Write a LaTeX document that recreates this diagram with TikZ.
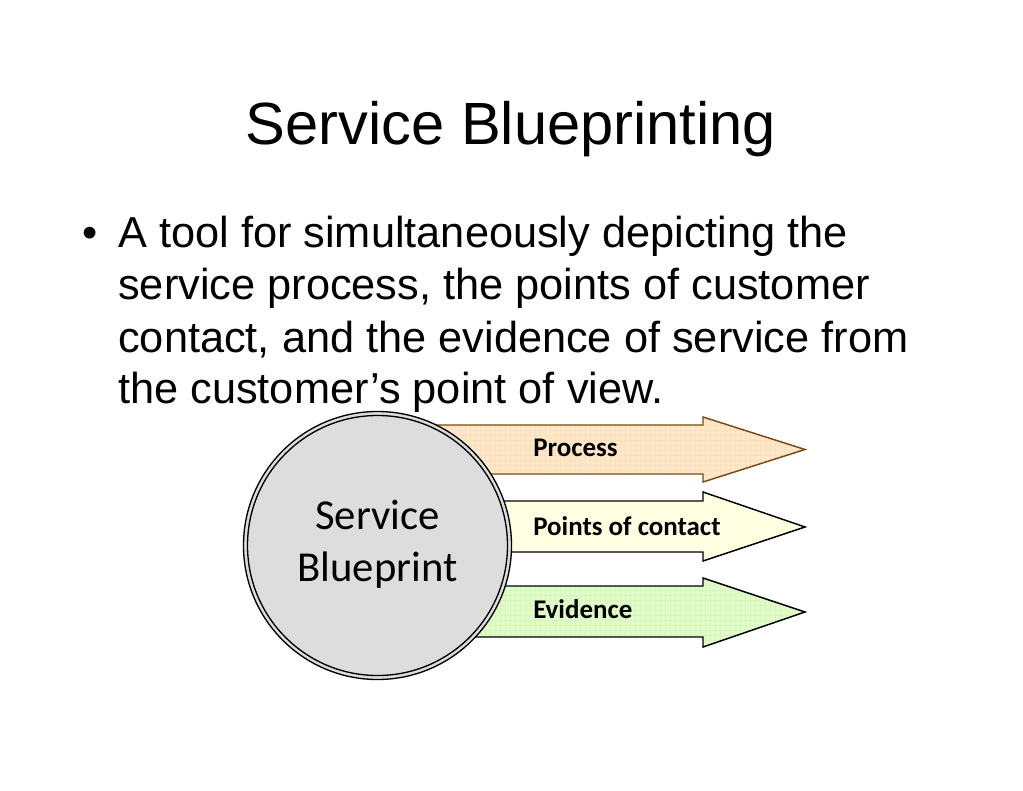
\documentclass[tikz,border=0pt]{standalone}
\usepackage{fontspec}
\setmainfont{Liberation Sans}
\newfontfamily\labelfont{Carlito}
\definecolor{procfill}{HTML}{FDE8CB}
\definecolor{procgrid}{HTML}{FADFB8}
\definecolor{procline}{HTML}{7A4A14}
\definecolor{pointfill}{HTML}{FFFFE2}
\definecolor{evidfill}{HTML}{E0FCC8}
\definecolor{evidgrid}{HTML}{D8F5BE}
\definecolor{circfill}{HTML}{DDDDDD}
\tikzset{%
	heading/.style={inner sep=0pt,anchor=base,font=\fontsize{44.7}{45}\selectfont},
	bodyline/.style={inner sep=0pt,anchor=base west,font=\fontsize{32.5}{33}\selectfont},
	arrowbody/.style={line width=1.1pt,line join=miter},
	gridded/.style={path picture={\draw[#1,line width=0.3pt,xstep=3.75pt,ystep=3.75pt] (420,410) grid (810,650);}},
	arrowlabel/.style={inner sep=0pt,anchor=base west,font=\labelfont\bfseries\fontsize{20.2}{20}\selectfont},
	circlabel/.style={inner sep=0pt,anchor=base,font=\labelfont\fontsize{32}{32}\selectfont},
}
\begin{document}
\begin{tikzpicture}[x=0.75pt,y=-0.75pt]
	\useasboundingbox (0,0) rectangle (1023,791);

	%TITLE
	\node[heading] (title) at (511,145) {Service Blueprinting};

	%BULLET
	\node[bodyline] (bullet) at (82,248) {•};
	\node[bodyline] (line1) at (118,248) {A tool for simultaneously depicting the};
	\node[bodyline] (line2) at (118,300) {service process, the points of customer};
	\node[bodyline] (line3) at (118,352) {contact, and the evidence of service from};
	\node[bodyline] (line4) at (118,403) {the customer’s point of view.};

	%ARROWS
	\draw[arrowbody, draw=procline, fill=procfill, gridded=procgrid] (420,425) -- (703,425) -- (703,417) -- (805,449.5) -- (703,482) -- (703,474) -- (420,474) -- cycle; %process
	\draw[arrowbody, fill=pointfill] (420,501) -- (703,501) -- (703,492) -- (805,527) -- (703,561) -- (703,552) -- (420,552) -- cycle; %points
	\draw[arrowbody, fill=evidfill, gridded=evidgrid] (420,586) -- (703,586) -- (703,578) -- (805,612) -- (703,647) -- (703,637) -- (420,637) -- cycle; %evidence

	\node[arrowlabel] (process) at (533,456.5) {Process};
	\node[arrowlabel] (points) at (533,535.5) {Points of contact};
	\node[arrowlabel] (evidence) at (533,618.5) {Evidence};

	%CIRCLE
	\draw[line width=1pt, fill=circfill] (377.5,545.5) circle (134);
	\draw[line width=1pt, fill=circfill] (377.5,545.5) circle (130);
	\node[circlabel] (service) at (377.5,529) {Service};
	\node[circlabel] (blueprint) at (377.5,581) {Blueprint};
\end{tikzpicture}
\end{document}
